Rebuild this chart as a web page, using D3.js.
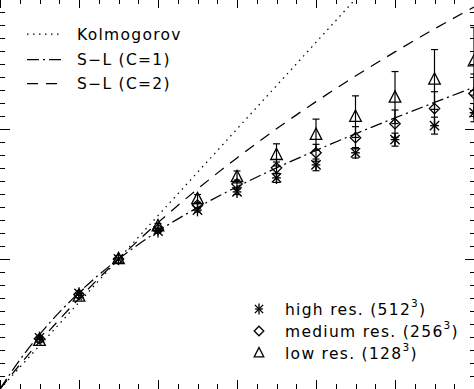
<!DOCTYPE html>
<html><head><meta charset="utf-8">
<script src="https://cdn.jsdelivr.net/npm/d3@7"></script>
<style>html,body{margin:0;padding:0;background:#fff;overflow:hidden}svg{display:block}</style>
</head><body>
<svg id="c" width="474" height="389"></svg>
<script>
// ---- data ----
const orders = [1,2,3,4,5,6,7,8,9,10,11,12];
const zetaHigh = [0.394,0.735,1.0,1.214,1.376,1.516,1.624,1.724,1.817,1.918,2.026,2.126];
const zetaMed  = [0.387,0.727,1.0,1.229,1.415,1.577,1.701,1.817,1.933,2.041,2.157,2.273];
const zetaLow  = [0.371,0.711,1.0,1.253,1.461,1.631,1.801,1.956,2.095,2.242,2.381,2.521];
const errHigh = [0,0,0,0.01,0.015,0.02,0.035,0.045,0.04,0.05,0.065,0.07];
const errMed  = [0,0,0,0.01,0.02,0.03,0.045,0.065,0.085,0.105,0.13,0.15];
const errLow  = [0.01,0.01,0,0.02,0.035,0.046,0.085,0.12,0.16,0.2,0.23,0.26];
const curveP   = [0,0.5,1,2,3,4,5,6,7,8,9,10,11,12];
const kolmo    = [0,0.1667,0.3333,0.6667,1.0,1.3333,1.6667,2.0,2.3333,2.6667,3.0,3.3333,3.6667,4.0];
const slC1     = [0,0.2229,0.4178,0.7415,1.0,1.2133,1.3953,1.5556,1.7007,1.8355,1.9630,2.0854,2.2044,2.3210];
const slC2     = [0,0.1862,0.3640,0.6959,1.0,1.2797,1.5381,1.7778,2.0013,2.2105,2.4074,2.5934,2.7700,2.9383];
const xMajor = [0,2,4,6,8,10,12];
const xMinor = [0,0.5,1,1.5,2,2.5,3,3.5,4,4.5,5,5.5,6,6.5,7,7.5,8,8.5,9,9.5,10,10.5,11,11.5,12];
const yMajor = [0,1,2,3];
const yMinor = [0,0.1,0.2,0.3,0.4,0.5,0.6,0.7,0.8,0.9,1,1.1,1.2,1.3,1.4,1.5,1.6,1.7,1.8,1.9,2,2.1,2.2,2.3,2.4,2.5,2.6,2.7,2.8,2.9,3];
const lineLegend = ["Kolmogorov","S\u2212L (C=1)","S\u2212L (C=2)"];
const markLegend = [["high res. (512","3",")"],["medium res. (256","3",")"],["low res. (128","3",")"]];

// ---- layout ----
const W=474,H=389;
const svg=d3.select("#c");
const x=d3.scaleLinear([0,12],[0,474]);
const y=d3.scaleLinear([0,3],[389,-1]);
const FONT="'DejaVu Sans', sans-serif";

function ax(gen,tr,vals,size){
  const g=svg.append("g").attr("transform",tr)
    .call(gen.tickValues(vals).tickSize(size).tickFormat(""));
  g.select(".domain").remove();
  g.selectAll("line").attr("stroke","#000").attr("stroke-width",1).attr("shape-rendering","crispEdges");
}
ax(d3.axisBottom(x),`translate(0,${H-0.5})`,xMinor,-4.5);
ax(d3.axisBottom(x),`translate(0,${H-0.5})`,xMajor,-9);
ax(d3.axisTop(x),`translate(0,0)`,xMinor,-4);
ax(d3.axisTop(x),`translate(0,0)`,xMajor,-7.5);
ax(d3.axisLeft(y),`translate(0,0)`,yMinor,-5);
ax(d3.axisLeft(y),`translate(0,0)`,yMajor,-10);
ax(d3.axisRight(y),`translate(${W},0)`,yMinor,-4.5);
ax(d3.axisRight(y),`translate(${W},0)`,yMajor,-9.5);

// theory curves
const styles=[
  {data:kolmo,dash:"1.5 4.5"},
  {data:slC1,dash:"12 4 2 4"},
  {data:slC2,dash:"11 8"}
];
const lineGen=d3.line().x(d=>x(d[0])).y(d=>y(d[1])).curve(d3.curveMonotoneX);
styles.forEach(s=>{
  svg.append("path").datum(curveP.map((p,i)=>[p,s.data[i]]))
    .attr("d",lineGen).attr("fill","none").attr("stroke","#000")
    .attr("stroke-width",1.25).attr("stroke-dasharray",s.dash);
});

// markers
function star(g,cx,cy,r){
  const a=r*0.75;
  [[0,-r,0,r],[-a,-a,a,a],[-a,a,a,-a],[-r*0.7,0,r*0.7,0]].forEach(l=>
    g.append("line").attr("x1",cx+l[0]).attr("y1",cy+l[1]).attr("x2",cx+l[2]).attr("y2",cy+l[3])
     .attr("stroke","#000").attr("stroke-width",1.35));
}
function diamond(g,cx,cy,r){
  g.append("path").attr("d",`M${cx},${cy-r}L${cx+r},${cy}L${cx},${cy+r}L${cx-r},${cy}Z`)
   .attr("fill","none").attr("stroke","#000").attr("stroke-width",1.3);
}
function tri(g,cx,cy,r){
  g.append("path").attr("d",`M${cx},${cy-r*1.15}L${cx+r},${cy+r*0.8}L${cx-r},${cy+r*0.8}Z`)
   .attr("fill","none").attr("stroke","#000").attr("stroke-width",1.3);
}
const series=[
  {v:zetaLow,e:errLow,m:tri,r:5.8},
  {v:zetaMed,e:errMed,m:diamond,r:5.2},
  {v:zetaHigh,e:errHigh,m:star,r:6.2}
];
const gm=svg.append("g");
series.forEach(s=>{
  orders.forEach((p,i)=>{
    const cx=x(p), y0=y(s.v[i]-s.e[i]), y1=y(s.v[i]+s.e[i]);
    if(s.e[i]>0.005){
      gm.append("line").attr("x1",cx).attr("x2",cx).attr("y1",y0).attr("y2",y1).attr("stroke","#000").attr("stroke-width",1.2);
      [y0,y1].forEach(yy=>gm.append("line").attr("x1",cx-3.5).attr("x2",cx+3.5).attr("y1",yy).attr("y2",yy).attr("stroke","#000").attr("stroke-width",1.2));
    }
  });
});
series.forEach(s=>{orders.forEach((p,i)=>s.m(gm,x(p),y(s.v[i]),s.r));});

// legend top-left
const ly=[34,59.5,83.5];
lineLegend.forEach((t,i)=>{
  svg.append("line").attr("x1",27).attr("x2",63).attr("y1",ly[i]).attr("y2",ly[i])
    .attr("stroke","#000").attr("stroke-width",1.25).attr("stroke-dasharray",styles[i].dash);
  svg.append("text").attr("x",77).attr("y",ly[i]+5.8).text(t)
    .attr("font-family",FONT).attr("font-size",15.5).attr("letter-spacing",1.3).attr("fill","#000");
});
// legend bottom-right
const my=[309,331,353];
const mk=[star,diamond,tri];
markLegend.forEach((t,i)=>{
  mk[i](svg,259,my[i],i===0?5.5:4.8);
  const tx=svg.append("text").attr("x",285).attr("y",my[i]+5.5)
    .attr("font-family",FONT).attr("font-size",15.5).attr("letter-spacing",1.3).attr("fill","#000");
  tx.append("tspan").text(t[0]);
  tx.append("tspan").attr("font-size",10.5).attr("dy",-7.5).text(t[1]);
  tx.append("tspan").attr("dy",7.5).text(t[2]);
});
</script>
</body></html>
